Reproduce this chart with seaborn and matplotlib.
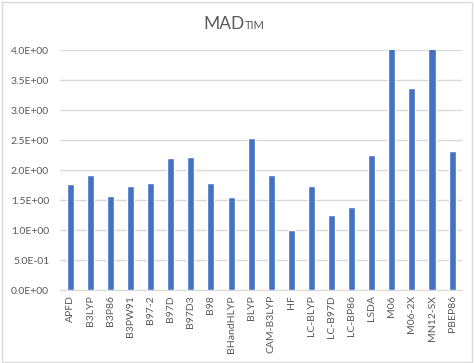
import numpy as np
import pandas as pd
import seaborn as sns
import matplotlib.pyplot as plt
from matplotlib.patches import Rectangle

functionals = ["APFD", "B3LYP", "B3P86", "B3PW91", "B97-2", "B97D", "B97D3", "B98",
               "BHandHLYP", "BLYP", "CAM-B3LYP", "HF", "LC-BLYP", "LC-B97D", "LC-BP86",
               "LSDA", "M06", "M06-2X", "MN12-SX", "PBEP86"]
mad_tim = [1.77, 1.92, 1.57, 1.73, 1.78, 2.20, 2.22, 1.78,
           1.55, 2.53, 1.91, 1.00, 1.74, 1.25, 1.38,
           2.25, 4.60, 3.37, 4.60, 2.32]
yticks = [0.0, 0.5, 1.0, 1.5, 2.0, 2.5, 3.0, 3.5, 4.0]
ytick_labels = ["0.0E+00", "5.0E-01", "1.0E+00", "1.5E+00", "2.0E+00",
                "2.5E+00", "3.0E+00", "3.5E+00", "4.0E+00"]

df = pd.DataFrame({"functional": functionals, "mad": mad_tim})

sns.set_style("white")
plt.rcParams["font.family"] = ["Lato", "DejaVu Sans"]
text_col = "#595959"
grid_col = "#D9D9D9"

fig = plt.figure(figsize=(4.74, 3.63), dpi=100)
ax = fig.add_axes([0.127, 0.201, 0.848, 0.661])

sns.barplot(data=df, x="functional", y="mad", color="#4472C4", saturation=1,
            width=0.35, ax=ax, zorder=3)

ax.set_ylim(0, 4.0)
ax.set_xlim(-0.5, len(functionals) - 0.5)
ax.set_yticks(yticks)
ax.set_yticklabels(ytick_labels)
ax.yaxis.grid(True, color=grid_col, linewidth=1, zorder=0)
ax.set_axisbelow(True)
ax.set_xlabel("")
ax.set_ylabel("")
for side in ["top", "right", "left"]:
    ax.spines[side].set_visible(False)
ax.spines["bottom"].set_color(grid_col)
ax.tick_params(axis="both", length=0, colors=text_col, labelsize=7.5)
ax.tick_params(axis="y", pad=8)
plt.setp(ax.get_xticklabels(), rotation=90)

# title: "MAD" with smaller "TIM"
fig.text(0.517, 0.92, "MAD", ha="right", va="baseline", fontsize=12.5, color=text_col)
fig.text(0.517, 0.92, "TIM", ha="left", va="baseline", fontsize=8, color=text_col)

fig.patches.append(Rectangle((0.004, 0.004), 0.992, 0.99, transform=fig.transFigure,
                             fill=False, edgecolor=grid_col, linewidth=1))

fig.savefig("out.png", dpi=100)
